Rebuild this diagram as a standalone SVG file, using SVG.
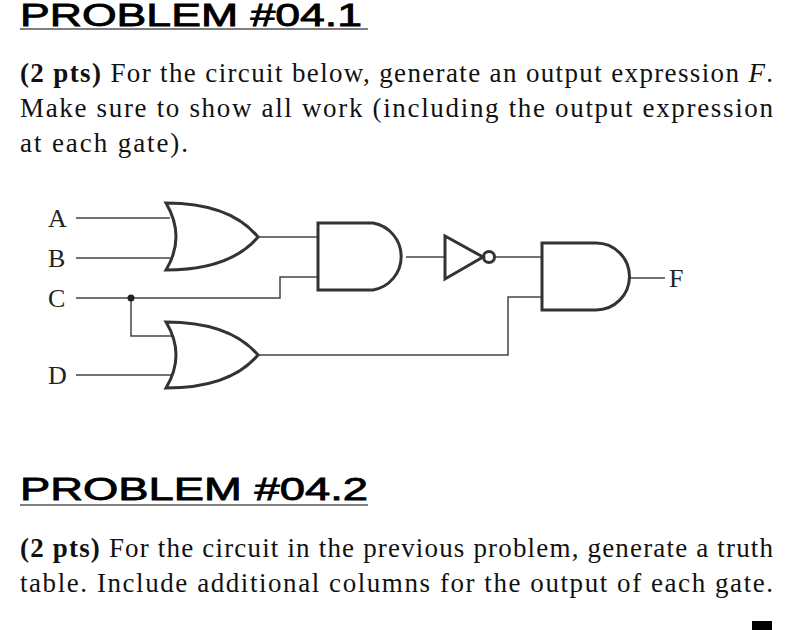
<svg xmlns="http://www.w3.org/2000/svg" width="804" height="630" viewBox="0 0 804 630">
<style>
.t{font-family:"Liberation Serif",serif;font-size:27px;fill:#111}
.h{font-family:"Liberation Sans",sans-serif;font-size:31px;fill:#000;stroke:#000;stroke-width:0.8}
.l{font-family:"Liberation Serif",serif;font-size:26px;fill:#222}
.g{fill:none;stroke:#333;stroke-width:3}
.w{fill:none;stroke:#444;stroke-width:1.5}
</style>
<rect width="804" height="630" fill="#fff"/>
<text class="h" x="20" y="26" textLength="342" lengthAdjust="spacingAndGlyphs">PROBLEM #04.1</text>
<line x1="20" y1="29" x2="368" y2="29" stroke="#555" stroke-width="1.5"/>
<text class="t" x="20" y="82" textLength="753" lengthAdjust="spacing"><tspan font-weight="bold">(2 pts)</tspan> For the circuit below, generate an output expression <tspan font-style="italic">F</tspan>.</text>
<text class="t" x="20" y="117" textLength="753" lengthAdjust="spacing">Make sure to show all work (including the output expression</text>
<text class="t" x="20" y="152" textLength="168" lengthAdjust="spacing">at each gate).</text>
<g id="labels">
<text class="l" x="48" y="227">A</text>
<text class="l" x="48" y="267">B</text>
<text class="l" x="48" y="307">C</text>
<text class="l" x="48" y="384">D</text>
<text class="l" x="669" y="287">F</text>
</g>
<g id="connectors">
<path class="w" d="M76 218H170M76 258H170M258 237H318M76 298H280V277H318M406 257H445M495 257H542M629 278H665M131 298V336H172M76 375H172M258 355H508V297H542"/>
<circle cx="131" cy="298" r="3.5" fill="#222"/>
</g>
<g id="or1"><path class="g" d="M166 203Q186 237 166 270Q230 270 258 237Q230 203 166 203Z"/></g>
<g id="and1"><path class="g" d="M318 223H373A34 34 0 0 1 373 290H318Z"/></g>
<g id="not1"><path class="g" d="M445 236L483 257L445 279Z"/><circle class="g" cx="489" cy="257" r="5.5" stroke-width="2.5"/></g>
<g id="and2"><path class="g" d="M542 243H596A33.5 33.5 0 0 1 596 310H542Z"/></g>
<g id="or2"><path class="g" d="M166 322Q186 355 166 388Q230 388 258 355Q230 322 166 322Z"/></g>
<text class="h" x="20" y="500" textLength="348" lengthAdjust="spacingAndGlyphs">PROBLEM #04.2</text>
<line x1="20" y1="505" x2="368" y2="505" stroke="#555" stroke-width="1.5"/>
<text class="t" x="20" y="557" textLength="753" lengthAdjust="spacing"><tspan font-weight="bold">(2 pts)</tspan> For the circuit in the previous problem, generate a truth</text>
<text class="t" x="20" y="592" textLength="753" lengthAdjust="spacing">table. Include additional columns for the output of each gate.</text>
<rect x="752" y="621" width="20" height="9" fill="#000"/>
</svg>
